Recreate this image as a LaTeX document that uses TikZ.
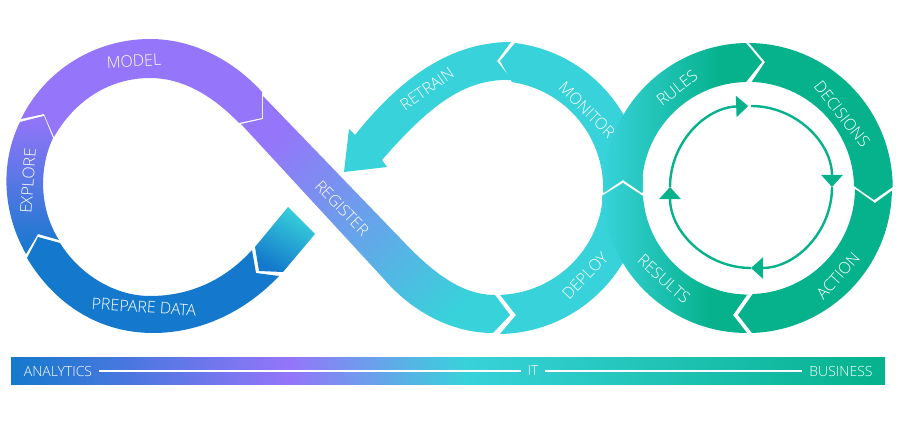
\documentclass[tikz,border=0pt]{standalone}
\usepackage{fontspec}
\setmainfont{Open Sans Light}
\usetikzlibrary{arrows.meta}
\definecolor{bandblue}{HTML}{1479CC}
\definecolor{bandpurple}{HTML}{9575FA}
\definecolor{bandteal}{HTML}{38D2DA}
\definecolor{bandgreen}{HTML}{05B28C}
\pgfdeclarehorizontalshading{barfade}{100bp}{color(0bp)=(bandblue); color(25bp)=(bandblue); color(41bp)=(bandpurple); color(51bp)=(bandteal); color(75bp)=(bandgreen); color(100bp)=(bandgreen)}
\pgfdeclarehorizontalshading{ringfade}{100bp}{color(0bp)=(bandteal); color(25bp)=(bandteal); color(62bp)=(bandgreen); color(100bp)=(bandgreen)}
\tikzset{
  lbl/.style={text=white, font=\fontsize{16}{16}\selectfont, inner sep=0pt},
  barlbl/.style={text=white, font=\fontsize{14}{14}\selectfont, inner sep=0pt, outer sep=7pt},
  loopline/.style={draw=bandgreen, line width=2.4pt, -{Triangle[length=12pt,width=21pt]}}
}

\begin{document}
\begin{tikzpicture}[x=1pt, y=-1pt]
      \useasboundingbox (0,0) rectangle (900,425);

      % left loop
      \fill[bandpurple] (21,119) .. controls (45,70) and (95,39) .. (150,39)
        .. controls (195,39) and (235,62) .. (262,92) -- (262,118) -- (239,123)
        .. controls (212,95) and (182,78) .. (150,78)
        .. controls (110,78) and (75,100) .. (54,137) -- (44,114) -- cycle;
      \shade[top color=bandpurple, bottom color=bandblue] (20,122) -- (44,116) -- (53,138)
        .. controls (38,170) and (40,210) .. (59,240) -- (38,234) -- (26,254)
        .. controls (1,210) and (1,160) .. (20,122) -- cycle;
      \fill[bandblue] (27,258) -- (38,237) -- (60,243)
        .. controls (80,275) and (115,296) .. (150,296)
        .. controls (190,296) and (225,280) .. (252,250) -- (256,273) -- (279,276)
        .. controls (245,312) and (200,333) .. (153,333)
        .. controls (100,333) and (55,305) .. (27,258) -- cycle;
      \shade[top color=bandteal, bottom color=bandblue, shading angle=-30] (255,247) -- (259,271)
        -- (283,272) -- (315,234) -- (288,207) -- cycle;

      % band through the middle
      \shade[top color=bandpurple, bottom color=bandteal, shading angle=45] (263,96) -- (400,238)
        .. controls (430,270) and (460,295) .. (495,295) -- (510,315) -- (493,333)
        .. controls (450,333) and (410,310) .. (383,278) -- (241,124) -- (263,119) -- cycle;

      % middle loop
      \fill[bandteal] (511,42) -- (497,61) -- (512,80)
        .. controls (465,78) and (430,105) .. (382,160) -- (387,167) -- (344,172) -- (349,129) -- (355,135)
        .. controls (395,85) and (445,42) .. (511,42) -- cycle;
      \fill[bandteal] (515,43) arc[start angle=-83, end angle=2, radius=146] -- (623,179)
        -- (603,192) arc[start angle=2.2, end angle=-81.5, radius=107] -- (500,61) -- cycle;
      \fill[bandteal] (603,196) arc[start angle=4.3, end angle=88, radius=107] -- (516,315)
        -- (500,334) arc[start angle=89, end angle=4, radius=146] -- (623,183) -- cycle;

      % right ring
      \shade[shading=ringfade] (642,193) arc[start angle=177.3, end angle=269, radius=106]
        -- (762,62) -- (746,43) arc[start angle=269, end angle=178, radius=145] -- (623,180) -- cycle;
      \fill[bandgreen] (749,43) arc[start angle=-89.5, end angle=-0.4, radius=145] -- (874,200)
        -- (854,186) arc[start angle=-1, end angle=-88, radius=106] -- (765,62) -- cycle;
      \fill[bandgreen] (855,189) arc[start angle=0.5, end angle=88, radius=106] -- (738,315)
        -- (752,333) arc[start angle=88, end angle=1, radius=145] -- (875,203) -- cycle;
      \shade[shading=ringfade] (747,295) -- (733,315) -- (747,333)
        arc[start angle=90, end angle=177, radius=145] -- (623,183) -- (643,196)
        arc[start angle=176, end angle=90, radius=106] -- cycle;

      % arrows inside the ring
      \draw[loopline] (670,187) arc[start angle=180, end angle=268, radius=81];
      \draw[loopline] (751,106) arc[start angle=-90, end angle=0, radius=81];
      \draw[loopline] (832,187) arc[start angle=0, end angle=90, radius=81];
      \draw[loopline] (751,268) arc[start angle=90, end angle=180, radius=81];

      \node[lbl, rotate=3] (model) at (134,61) {MODEL};
      \node[lbl, rotate=86] (explore) at (28,181) {EXPLORE};
      \node[lbl, rotate=-4] (prepare) at (144,307) {PREPARE DATA};
      \node[lbl, rotate=-46] (register) at (342,208) {REGISTER};
      \node[lbl, rotate=35] (retrain) at (427,89) {RETRAIN};
      \node[lbl, rotate=-45] (monitor) at (587,110) {MONITOR};
      \node[lbl, rotate=46] (deploy) at (585,276) {DEPLOY};
      \node[lbl, rotate=38] (rules) at (677,88) {RULES};
      \node[lbl, rotate=-52] (decisions) at (842,114) {DECISIONS};
      \node[lbl, rotate=48] (action) at (838,276) {ACTION};
      \node[lbl, rotate=-42] (results) at (664,279) {RESULTS};

      % bar at the bottom
      \shade[shading=barfade] (11,357) rectangle (885,384);
      \node[barlbl] (analytics) at (58,371) {ANALYTICS};
      \node[barlbl] (it) at (533,371) {IT};
      \node[barlbl] (business) at (841,371) {BUSINESS};
      \draw[white, line width=1.5pt] (analytics) -- (it);
      \draw[white, line width=1.5pt] (it) -- (business);
    \end{tikzpicture}
\end{document}
